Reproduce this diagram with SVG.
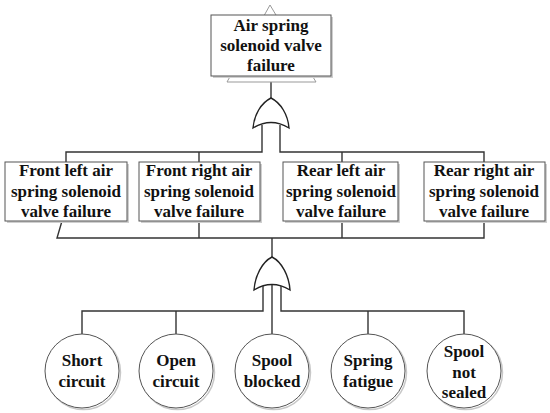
<svg xmlns="http://www.w3.org/2000/svg" width="550" height="413" viewBox="0 0 550 413">
<style>
.box{fill:#fff;stroke:#555;stroke-width:1}
.sh{fill:#cfcfcf;stroke:none}
.csh{fill:none;stroke:#c8c8c8;stroke-width:1.5}
.circ{fill:#fff;stroke:#555;stroke-width:1}
.ln{fill:none;stroke:#333;stroke-width:1.4}
.gate{fill:#fff;stroke:#222;stroke-width:1.4}
.tri{fill:#fff;stroke:#999;stroke-width:1}
text{font-family:"Liberation Serif","Times New Roman",serif;font-weight:bold;font-size:17px;fill:#111;text-anchor:middle}
</style>
<g id="connectors">
<line class="ln" x1="271" y1="76" x2="271" y2="98"/>
<polyline class="ln" points="262,125 262,152 66,152 66,162"/>
<polyline class="ln" points="280,125 280,152 484,152 484,162"/>
<line class="ln" x1="199" y1="152" x2="199" y2="162"/>
<line class="ln" x1="342" y1="152" x2="342" y2="162"/>
<polyline class="ln" points="62,221 57,238 484,238 484,221"/>
<line class="ln" x1="199" y1="221" x2="199" y2="238"/>
<line class="ln" x1="342" y1="221" x2="342" y2="238"/>
<line class="ln" x1="272" y1="238" x2="272" y2="257"/>
<polyline class="ln" points="263,286 263,311 82,311 82,334"/>
<polyline class="ln" points="281,286 281,311 464,311 464,334"/>
<line class="ln" x1="176" y1="311" x2="176" y2="334"/>
<line class="ln" x1="368" y1="311" x2="368" y2="334"/>
<line class="ln" x1="272" y1="285" x2="272" y2="334"/>
</g>
<g id="gate-top">
<path class="gate" d="M271,98 C261,103 254,115 253,128 Q271,117 289,128 C288,115 281,103 271,98 Z"/>
</g>
<g id="gate-mid">
<path class="gate" d="M272,257 C262,262 255,276 254,290 Q272,279 290,290 C289,276 282,262 272,257 Z"/>
</g>
<g id="top-event">
<polygon class="tri" points="270,5 227,82 316,82"/>
<rect class="sh" x="213" y="17" width="120" height="61"/>
<rect class="box" x="211" y="15" width="120" height="61"/>
<text x="271" y="31">Air spring</text>
<text x="271" y="51">solenoid valve</text>
<text x="271" y="71">failure</text>
</g>
<g id="front-left">
<rect class="sh" x="7" y="164" width="122" height="59"/>
<rect class="box" x="5" y="162" width="122" height="59"/>
<text x="66" y="176">Front left air</text>
<text x="66" y="197">spring solenoid</text>
<text x="66" y="217">valve failure</text>
</g>
<g id="front-right">
<rect class="sh" x="141" y="164" width="121" height="59"/>
<rect class="box" x="139" y="162" width="121" height="59"/>
<text x="199" y="176">Front right air</text>
<text x="199" y="197">spring solenoid</text>
<text x="199" y="217">valve failure</text>
</g>
<g id="rear-left">
<rect class="sh" x="285" y="164" width="115" height="59"/>
<rect class="box" x="283" y="162" width="115" height="59"/>
<text x="341" y="176">Rear left air</text>
<text x="341" y="197">spring solenoid</text>
<text x="341" y="217">valve failure</text>
</g>
<g id="rear-right">
<rect class="sh" x="426" y="164" width="121" height="59"/>
<rect class="box" x="424" y="162" width="121" height="59"/>
<text x="484" y="176">Rear right air</text>
<text x="484" y="197">spring solenoid</text>
<text x="484" y="217">valve failure</text>
</g>
<g id="short-circuit">
<circle class="csh" cx="83.5" cy="372.5" r="37"/>
<circle class="circ" cx="82" cy="371" r="37"/>
<text x="82" y="366">Short</text>
<text x="82" y="387">circuit</text>
</g>
<g id="open-circuit">
<circle class="csh" cx="177.5" cy="372.5" r="37"/>
<circle class="circ" cx="176" cy="371" r="37"/>
<text x="176" y="366">Open</text>
<text x="176" y="387">circuit</text>
</g>
<g id="spool-blocked">
<circle class="csh" cx="273.5" cy="372.5" r="37"/>
<circle class="circ" cx="272" cy="371" r="37"/>
<text x="272" y="366">Spool</text>
<text x="272" y="387">blocked</text>
</g>
<g id="spring-fatigue">
<circle class="csh" cx="369.5" cy="372.5" r="37"/>
<circle class="circ" cx="368" cy="371" r="37"/>
<text x="368" y="366">Spring</text>
<text x="368" y="387">fatigue</text>
</g>
<g id="spool-not-sealed">
<circle class="csh" cx="465.5" cy="372.5" r="37"/>
<circle class="circ" cx="464" cy="371" r="37"/>
<text x="464" y="357">Spool</text>
<text x="464" y="378">not</text>
<text x="464" y="398">sealed</text>
</g>
</svg>
